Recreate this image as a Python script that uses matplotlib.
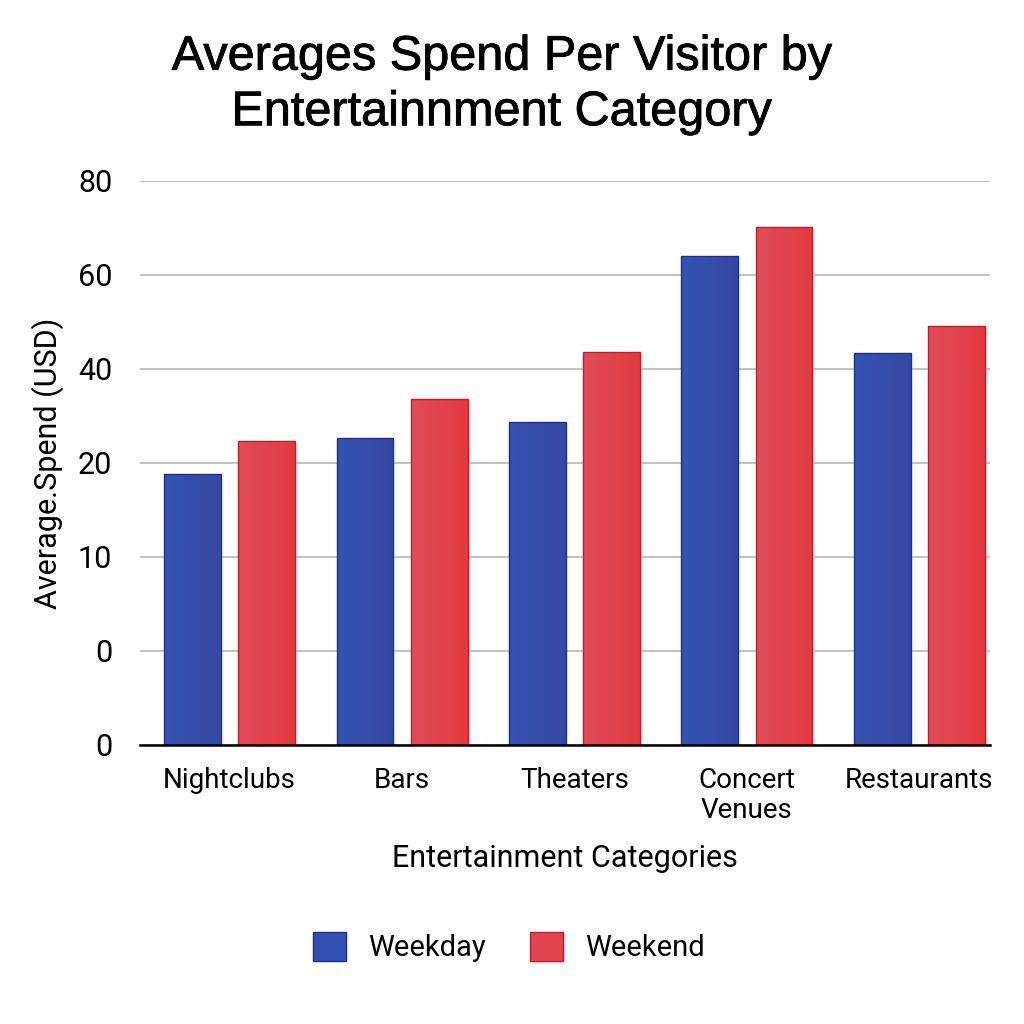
import matplotlib.pyplot as plt
import matplotlib.patheffects as pe
import numpy as np
from matplotlib.colors import LinearSegmentedColormap
from matplotlib.patches import Patch

# Daten (Werte in Gitterlinien-Einheiten, 10 pro Linie)
categories = ["Nightclubs", "Bars", "Theaters", "Concert\nVenues", "Restaurants"]
weekday = [28.8, 32.7, 34.4, 52.0, 41.7]
weekend = [32.3, 36.8, 41.8, 55.1, 44.6]
ytick_pos = [0, 10, 20, 30, 40, 50, 60]
ytick_labels = ["0", "0", "10", "20", "40", "60", "80"]

plt.rcParams['font.family'] = ['Roboto', 'DejaVu Sans']

blue_map = LinearSegmentedColormap.from_list("b", ["#3453b3", "#3748a2"])
red_map = LinearSegmentedColormap.from_list("r", ["#e04c58", "#e33b41"])


def gradient_bars(ax, bars, cmap):
    grad = np.linspace(0, 1, 64).reshape(1, -1)
    for b in bars:
        x0, y0 = b.get_x(), b.get_y()
        w, h = b.get_width(), b.get_height()
        im = ax.imshow(grad, cmap=cmap, aspect='auto', extent=[x0, x0 + w, y0, y0 + h],
                       zorder=b.get_zorder() - 0.1)
        im.set_clip_path(b)
        b.set_facecolor('none')


fig = plt.figure(figsize=(10.24, 10.24), dpi=100)
ax = fig.add_axes([140 / 1024, 1 - 745 / 1024, 850 / 1024, 564 / 1024])

x = np.arange(len(categories))
w = 0.33
b1 = ax.bar(x - 0.215, weekday, w, edgecolor="#1c2c9c", linewidth=1.0, zorder=3)
b2 = ax.bar(x + 0.215, weekend, w, edgecolor="#e0101e", linewidth=1.0, zorder=3)
gradient_bars(ax, b1, blue_map)
gradient_bars(ax, b2, red_map)

ax.set_xlim(-0.52, 4.41)
ax.set_ylim(0, 60)
ax.set_yticks(ytick_pos)
ax.set_yticklabels(ytick_labels, fontsize=22)
ax.set_xticks(x)
ax.set_xticklabels(categories, fontsize=20, linespacing=1.15)
ax.tick_params(axis='y', length=0, pad=20)
ax.tick_params(axis='x', length=0, pad=16)
ax.grid(axis='y', color="#b8b8b8", linewidth=1.2, zorder=0)
for s in ["top", "right", "left"]:
    ax.spines[s].set_visible(False)
ax.spines["bottom"].set_linewidth(1.8)
ax.spines["bottom"].set_zorder(4)

ax.set_xlabel("Entertainment Categories", fontsize=22, labelpad=14)
ax.set_ylabel("Average.Spend (USD)", fontsize=22, labelpad=10)

title = fig.text(0.49, 0.917, "Averages Spend Per Visitor by\nEntertainnment Category",
                 ha='center', va='center', fontsize=35, family='Liberation Sans',
                 linespacing=1.3)
title.set_path_effects([pe.withStroke(linewidth=0.6, foreground='black')])

handles = [Patch(facecolor="#3350b0", edgecolor="#1c2c9c"),
           Patch(facecolor="#e0454f", edgecolor="#e0101e")]
fig.legend(handles, ["Weekday", "Weekend"], loc='center', bbox_to_anchor=(0.497, 0.075),
           ncol=2, frameon=False, fontsize=21, handlelength=1.15, handleheight=1.15,
           handletextpad=0.75, columnspacing=1.5)

fig.savefig("out.png", dpi=100)
